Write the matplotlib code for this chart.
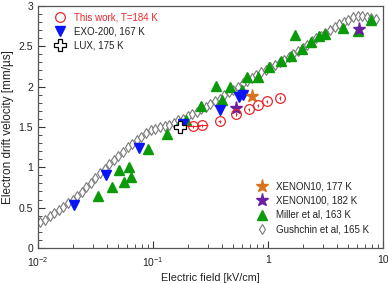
import numpy as np
import matplotlib
matplotlib.use('Agg')
import matplotlib.pyplot as plt
from matplotlib.ticker import (FixedLocator, FixedFormatter, MultipleLocator,
                               LogLocator, NullFormatter)

plt.rcParams['font.family'] = ['Liberation Sans', 'DejaVu Sans']
plt.rcParams['mathtext.fontset'] = 'custom'
plt.rcParams['mathtext.rm'] = 'Liberation Sans'

# This work, T=184 K
work_E = [0.224, 0.269, 0.379, 0.532, 0.677, 0.811, 0.972, 1.26]
work_v = [1.51, 1.52, 1.57, 1.66, 1.72, 1.77, 1.82, 1.86]
work_Eerr = [0.03, 0.03, 0.01, 0.01, 0.01, 0.01, 0.01, 0.01]
work_verr = [0.02, 0.02, 0.02, 0.02, 0.02, 0.02, 0.02, 0.02]

# EXO-200, 167 K
exo_E = [0.0206, 0.0392, 0.076, 0.184, 0.379, 0.555, 0.612]
exo_v = [0.53, 0.90, 1.24, 1.54, 1.71, 1.87, 1.90]

# LUX, 175 K
lux_E = [0.173]
lux_v = [1.50]

# XENON10, 177 K
x10_E = [0.73]
x10_v = [1.88]

# XENON100, 182 K
x100_E = [0.532, 6.17]
x100_v = [1.73, 2.71]

# Miller et al, 163 K
miller_E = [0.0333, 0.0442, 0.0508, 0.0562, 0.0621, 0.0647, 0.091, 0.133,
            0.173, 0.195, 0.264, 0.356, 0.402, 0.472, 0.589, 0.651, 0.811,
            1.03, 1.29, 1.57, 1.71, 1.96, 2.35, 2.76, 3.11, 4.47, 6.04, 7.84]
miller_v = [0.64, 0.76, 0.97, 0.82, 1.00, 0.88, 1.23, 1.41,
            1.55, 1.59, 1.76, 2.01, 1.83, 1.99, 1.96, 2.12, 2.12,
            2.24, 2.32, 2.38, 2.64, 2.47, 2.55, 2.63, 2.65, 2.73, 2.69, 2.83]

# Gushchin et al, 165 K
gush_E = [0.0105, 0.0115, 0.0126, 0.0138, 0.0151, 0.0166, 0.0182, 0.0200,
          0.0219, 0.0240, 0.0263, 0.0288, 0.0316, 0.0347, 0.0380, 0.0417,
          0.0457, 0.0501, 0.0550, 0.0603, 0.0661, 0.0724, 0.0794, 0.0871,
          0.0955, 0.105, 0.115, 0.126, 0.138, 0.151, 0.166, 0.182, 0.200,
          0.219, 0.240, 0.263, 0.288, 0.316, 0.347, 0.380, 0.417, 0.457,
          0.501, 0.550, 0.603, 0.661, 0.724, 0.794, 0.871, 0.955, 1.05,
          1.15, 1.26, 1.38, 1.51, 1.66, 1.82, 2.00, 2.19, 2.40, 2.63, 2.88,
          3.16, 3.47, 3.80, 4.17, 4.57, 5.01, 5.50, 6.03, 6.61, 7.24, 7.94,
          8.71]
gush_v = [0.32, 0.35, 0.39, 0.43, 0.47, 0.51, 0.555, 0.595,
          0.64, 0.69, 0.75, 0.81, 0.87, 0.93, 0.98, 1.04,
          1.09, 1.14, 1.195, 1.245, 1.29, 1.34, 1.38, 1.42,
          1.46, 1.48, 1.50, 1.51, 1.53, 1.55, 1.58, 1.60, 1.63,
          1.66, 1.69, 1.72, 1.75, 1.79, 1.82, 1.85, 1.89, 1.93,
          1.96, 2.00, 2.04, 2.07, 2.11, 2.14, 2.18, 2.21, 2.24,
          2.27, 2.30, 2.33, 2.37, 2.40, 2.44, 2.48, 2.52, 2.56, 2.60, 2.63,
          2.67, 2.70, 2.74, 2.77, 2.80, 2.83, 2.86, 2.88, 2.87, 2.86, 2.85,
          2.84]

xticks = [0.01, 0.1, 1, 10]
xticklabels = ['$10^{-2}$', '$10^{-1}$', '1', '10']
yticks = [0, 0.5, 1, 1.5, 2, 2.5, 3]
yticklabels = ['0', '0.5', '1', '1.5', '2', '2.5', '3']

red = '#e8282b'
blue = '#0a14f5'
green = '#0a9a0a'
orange = '#d9731c'
purple = '#6a1fa0'
txt = '#222222'

fig = plt.figure(figsize=(3.88, 2.83), dpi=100)
ax = fig.add_axes([0.098, 0.124, 0.889, 0.855])

h_gush, = ax.plot(gush_E, gush_v, ls='none', marker='d', ms=5.5, mfc='white',
                  mec='#7a7a7a', mew=0.8, zorder=2)
h_miller, = ax.plot(miller_E, miller_v, ls='none', marker='^', ms=7.5,
                    color=green, mec=green, zorder=3)
h_exo, = ax.plot(exo_E, exo_v, ls='none', marker='v', ms=7.5, color=blue,
                 mec=blue, zorder=4)
h_lux, = ax.plot(lux_E, lux_v, ls='none', marker='P', ms=8.5, mfc='white',
                 mec='black', mew=0.9, zorder=5)
h_x10, = ax.plot(x10_E, x10_v, ls='none', marker='*', ms=9.5, color=orange,
                 mec=orange, zorder=5)
h_x100, = ax.plot(x100_E, x100_v, ls='none', marker='*', ms=9.5, color=purple,
                  mec=purple, zorder=5)
ax.errorbar(work_E, work_v, xerr=work_Eerr, yerr=work_verr, ls='none',
            ecolor=red, elinewidth=0.8, capsize=0, zorder=6)
h_work, = ax.plot(work_E, work_v, ls='none', marker='o', ms=7, mfc='none',
                  mec=red, mew=0.9, zorder=6)

ax.set_xscale('log')
ax.set_xlim(0.01, 10)
ax.set_ylim(0, 3)
ax.xaxis.set_major_locator(FixedLocator(xticks))
ax.xaxis.set_major_formatter(FixedFormatter(xticklabels))
ax.xaxis.set_minor_locator(LogLocator(base=10, subs=range(2, 10)))
ax.xaxis.set_minor_formatter(NullFormatter())
ax.yaxis.set_major_locator(FixedLocator(yticks))
ax.yaxis.set_major_formatter(FixedFormatter(yticklabels))
ax.yaxis.set_minor_locator(MultipleLocator(0.1))
ax.tick_params(which='both', direction='in', colors='#333333', labelsize=7.5,
               labelcolor=txt)
ax.tick_params(which='major', length=5, width=0.8)
ax.tick_params(which='minor', length=3, width=0.6)
ax.tick_params(axis='x', pad=5)
for s in ax.spines.values():
    s.set_color('#555555')
    s.set_linewidth(0.9)

ax.set_xlabel('Electric field [kV/cm]', fontsize=7.8, color=txt, labelpad=3)
ax.set_ylabel('Electron drift velocity [mm/\u00b5s]', fontsize=8.5, color=txt,
              labelpad=3)

leg1 = ax.legend([h_work, h_exo, h_lux],
                 ['This work, T=184 K', 'EXO-200, 167 K', 'LUX, 175 K'],
                 loc='upper left', bbox_to_anchor=(0.035, 0.99), frameon=False,
                 fontsize=7, handlelength=1.2, handletextpad=0.9,
                 labelspacing=0.4, borderaxespad=0)
leg1.get_texts()[0].set_color(red)
for t in leg1.get_texts()[1:]:
    t.set_color(txt)
ax.add_artist(leg1)

leg2 = ax.legend([h_x10, h_x100, h_miller, h_gush],
                 ['XENON10, 177 K', 'XENON100, 182 K', 'Miller et al, 163 K',
                  'Gushchin et al, 165 K'],
                 loc='lower left', bbox_to_anchor=(0.62, 0.04), frameon=False,
                 fontsize=7, handlelength=1.2, handletextpad=0.9,
                 labelspacing=0.45, borderaxespad=0)
for t in leg2.get_texts():
    t.set_color(txt)

fig.savefig('out.png', dpi=100)
